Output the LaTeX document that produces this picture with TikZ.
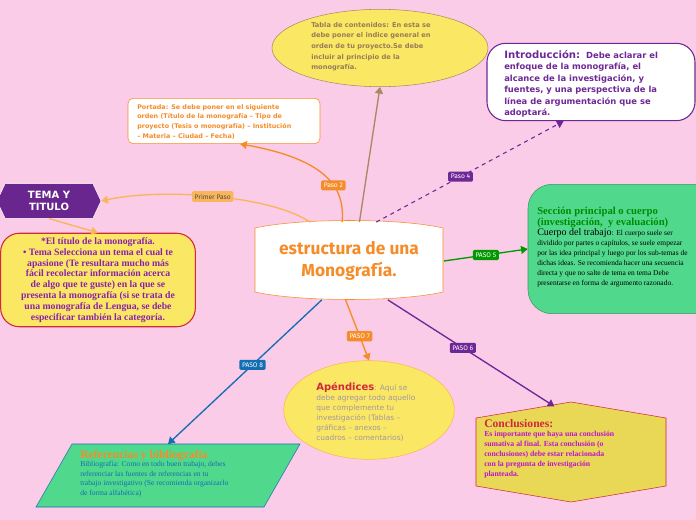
\documentclass[tikz,border=0pt]{standalone}
\usepackage{fontspec}
\setmainfont{Liberation Serif}
\newfontfamily\vsans{DejaVu Sans}
\newfontfamily\fsans{Fira Sans}
\usetikzlibrary{shapes.geometric,shapes.symbols,arrows.meta}
\definecolor{bgpink}{RGB}{250,204,232}
\definecolor{ylw}{RGB}{250,232,100}
\definecolor{orng}{RGB}{245,140,40}
\definecolor{lorng}{RGB}{250,180,90}
\definecolor{purp}{RGB}{110,40,150}
\definecolor{grn}{RGB}{80,216,140}
\definecolor{blu}{RGB}{20,110,180}
\definecolor{tan}{RGB}{168,138,96}
\definecolor{redd}{RGB}{210,40,60}
\tikzset{
  tag/.style={font=\fsans\fontsize{5}{6}\selectfont,inner sep=2pt,rounded corners=1pt,text=white},
  link/.style={line width=1pt,-{Triangle[length=5pt,width=6pt]}},
  txt/.style={align=left,inner sep=0pt,anchor=north west},
}
\begin{document}
\begin{tikzpicture}[x=0.75pt,y=0.75pt,yscale=-1,xscale=1]
\useasboundingbox (0,0) rectangle (696,520);
\fill[bgpink] (0,0) rectangle (696,520);

% center
\draw[orng,fill=white] (255,228) .. controls (300,218) and (400,218) .. (443,228) -- (443,292) .. controls (400,302) and (300,302) .. (255,292) -- cycle;
\node (ctr) at (349,261) [font=\fsans\bfseries\fontsize{13}{16}\selectfont,text=orng,align=center,minimum width=142,minimum height=58] {estructura de una\\Monografía.};

% tabla
\node (tabla) at (380,48) [ellipse,draw=tan,fill=ylw,minimum width=162,minimum height=58] {};
\node at (311,22) [txt,text=tan!90!black,font=\vsans\bfseries\fontsize{5}{8}\selectfont] {Tabla de contenidos: En esta se\\debe poner el indice general en\\orden de tu proyecto.Se debe\\incluir al principio de la\\monografía.};

% portada
\node (port) at (224,121) [draw=orng,fill=white,rounded corners=4pt,minimum width=144,minimum height=34] {};
\node at (137,104) [txt,text=orng,font=\vsans\bfseries\fontsize{4.8}{7.4}\selectfont] {Portada: Se debe poner en el siguiente\\orden (Título de la monografía – Tipo de\\proyecto (Tesis o monografía) – Institución\\– Materia – Ciudad – Fecha)};

% introduccion
\node (intro) at (591,82) [draw=purp,line width=0.8pt,fill=white,rounded corners=14pt,minimum width=156,minimum height=58] {};
\node at (504,50) [txt,text=purp,font=\vsans\bfseries\fontsize{6.3}{8.6}\selectfont] {{\fontsize{7.6}{8.6}\selectfont Introducción:}\ \ Debe aclarar el\\enfoque de la monografía, el\\alcance de la investigación, y\\fuentes, y una perspectiva de la\\línea de argumentación que se\\adoptará.};

% tema y titulo
\node (tema) at (49,201) [signal,signal to=east and west,signal pointer angle=130,fill=purp!95!black,draw=white,text=white,font=\vsans\bfseries\fontsize{7.5}{9}\selectfont,align=center,minimum width=78,minimum height=26] {TEMA Y\\TITULO};
\node (titl) at (98,280) [draw=redd,line width=0.8pt,fill=ylw,rounded corners=14pt,minimum width=146,minimum height=70,text=purp!80!magenta,font=\bfseries\fontsize{7.3}{8.1}\selectfont,align=center] {*El título de la monografía.\\• Tema Selecciona un tema el cual te\\apasione (Te resultara mucho más\\fácil recolectar información acerca\\de algo que te guste) en la que se\\presenta la monografía (si se trata de\\una monografía de Lengua, se debe\\especificar también la categoría.};

% seccion
\node (secc) at (628,249) [draw=grn!70!black,fill=grn,rounded corners=18pt,minimum width=150,minimum height=97] {};
\node at (537,207) [txt,text=black,font=\fontsize{5.6}{7.4}\selectfont] {{\color{green!55!black}\bfseries\fontsize{8}{9}\selectfont Sección principal o cuerpo}\\[0.5pt]{\color{green!55!black}\bfseries\fontsize{8}{9}\selectfont (investigación,\ \ y evaluación)}\\[0.5pt]{\fontsize{7.5}{8}\selectfont Cuerpo del trabajo}: El cuerpo suele ser\\dividido por partes o capítulos, se suele empezar\\por las idea principal y luego por los sub-temas de\\dichas ideas. Se recomienda hacer una secuencia\\directa y que no salte de tema en tema Debe\\presentarse en forma de argumento razonado.};
\fill[bgpink] (696,170) rectangle (720,330);

% apendices
\node (apen) at (369,410) [ellipse,draw=lorng,fill=ylw,minimum width=128,minimum height=74] {};
\node at (316,382) [txt,text=gray!70!bgpink,font=\vsans\fontsize{5.6}{7.6}\selectfont] {{\color{redd}\bfseries\fontsize{7.5}{8}\selectfont Apéndices}: Aquí se\\debe agregar todo aquello\\que complemente tu\\investigación (Tablas –\\gráficas – anexos –\\cuadros – comentarios)};

% referencias
\draw[blu,fill=grn] (72,444) -- (300,444) -- (264,507) -- (36,507) -- cycle;
\node (refs) at (168,475) [minimum width=150,minimum height=46] {};
\node at (80,450) [txt,text=blu,font=\fontsize{5.7}{7.2}\selectfont] {{\color{orng}\bfseries\fontsize{8.7}{9}\selectfont Referencias y bibliografía}\\[-1pt]Bibliografía: Como en todo buen trabajo, debes\\referenciar las fuentes de referencias en tu\\trabajo investigativo (Se recomienda organizarlo\\de forma alfabética)};

% conclusiones
\draw[redd,fill=ylw!85!olive] (476,418) -- (571,402) -- (666,418) -- (666,486) -- (571,502) -- (476,486) -- cycle;
\node (conc) at (571,452) [minimum width=140,minimum height=68] {};
\node at (484,419) [txt,text=purp!45!magenta,font=\bfseries\fontsize{5.8}{7.6}\selectfont] {{\color{redd}\fontsize{8.7}{9}\selectfont Conclusiones:}\\[-1pt]Es importante que haya una conclusión\\sumativa al final. Esta conclusión (o\\conclusiones) debe estar relacionada\\con la pregunta de investigación\\planteada.};

% connectors
\draw[link,lorng] (ctr.135) .. controls (270,195) and (160,188) .. (tema.east) node[pos=0.5,tag,fill=lorng,text=black!70] {Primer Paso};
\draw[link,orng] (ctr.100) .. controls (345,190) and (330,160) .. (port.305) node[pos=0.4,tag,fill=orng] {Paso 2};
\draw[link,tan] (ctr.75) -- (tabla.south);
\draw[link,purp,dashed,line width=0.8pt] (ctr.55) -- (intro.235) node[pos=0.45,tag,fill=purp] {Paso 4};
\draw[link,green!60!black] (ctr.east) -- (secc.west) node[midway,tag,fill=green!60!black] {PASO 5};
\draw[link,purp] (ctr.315) -- (conc.110) node[pos=0.45,tag,fill=purp] {PASO 6};
\draw[link,orng] (ctr.265) -- (apen.north) node[pos=0.6,tag,fill=orng] {PASO 7};
\draw[link,blu] (ctr.235) -- (refs.north) node[pos=0.45,tag,fill=blu] {PASO 8};
\draw[link,lorng] (tema.south) -- (titl.north);
\end{tikzpicture}
\end{document}
